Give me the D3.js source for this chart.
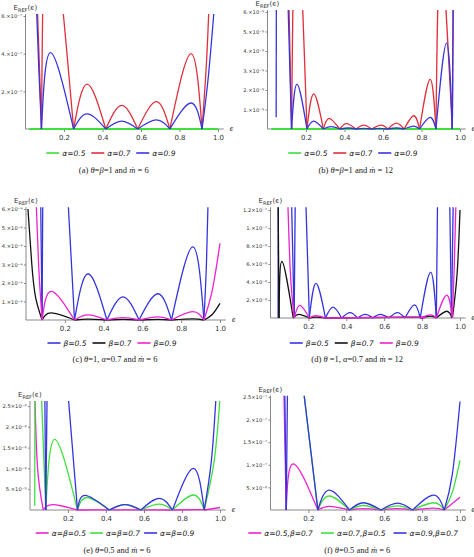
<!DOCTYPE html>
<html><head><meta charset="utf-8">
<script src="https://cdn.jsdelivr.net/npm/d3@7"></script>
<style>body{margin:0;background:#fff}text{font-family:"DejaVu Sans",sans-serif}</style>
</head><body><svg id="c" width="474" height="557"></svg>
<script>
// curve knots [epsilon, value in panel units]; a value of 0 marks a cusp
const aGreen = [[0.02,0],[1.0,0]];
const aRed = [[0.06,7],[0.083,0],[0.12,12],[0.25,0],[0.32,2.38],[0.417,0],[0.5,1.25],[0.583,0],[0.68,1.45],[0.75,0],[0.86,4.0],[0.917,0],[0.94,3.5],[0.955,7]];
const aBlue = [[0.055,7],[0.07,3],[0.083,0],[0.13,4.05],[0.25,0],[0.32,0.8],[0.417,0],[0.5,0.42],[0.583,0],[0.68,0.48],[0.75,0],[0.86,1.38],[0.917,0],[0.95,2.8],[0.985,7]];

const bGreen = [[0.02,0],[1.0,0]];
const bRed = [[0.11,7],[0.125,0],[0.15,12],[0.205,0],[0.24,1.8],[0.29,0],[0.32,0.55],[0.375,0],[0.41,0.28],[0.46,0],[0.5,0.2],[0.54,0],[0.59,0.2],[0.625,0],[0.67,0.3],[0.71,0],[0.76,0.68],[0.79,0],[0.845,2.55],[0.875,0],[0.9,9],[0.96,0],[0.965,7]];
const bBlue = [[0.045,0.6],[0.046,7]];
const bBlue2 = [[0.105,7],[0.125,0],[0.153,2.3],[0.205,0],[0.24,0.4],[0.29,0],[0.33,0.12],[0.375,0],[0.42,0.05],[0.46,0],[0.5,0.03],[0.54,0],[0.58,0.03],[0.625,0],[0.67,0.05],[0.71,0],[0.76,0.15],[0.79,0],[0.845,0.6],[0.875,0],[0.93,4.4],[0.96,0],[0.965,7]];

const cBlue = [[0.075,7],[0.083,0],[0.12,20],[0.25,0],[0.32,2.5],[0.417,0],[0.5,1.25],[0.583,0],[0.68,1.42],[0.75,0],[0.86,3.95],[0.917,0],[0.93,3],[0.94,7]];
const cBlack = [[0.01,6],[0.03,3],[0.05,1.2],[0.083,0],[0.13,0.38],[0.25,0],[0.32,0.05],[0.417,0],[0.5,0.03],[0.583,0],[0.68,0.03],[0.75,0],[0.86,0.06],[0.917,0],[0.96,0.3],[1.0,0.9]];
const cMagenta = [[0.05,7],[0.065,3],[0.083,0],[0.13,1.55],[0.25,0],[0.32,0.28],[0.417,0],[0.5,0.13],[0.583,0],[0.68,0.17],[0.75,0],[0.86,0.45],[0.917,0],[0.96,1.6],[1.0,4.15]];

const dBlue = [[0.04,0],[0.041,14]];
const dBlue2 = [[0.11,14],[0.125,0],[0.15,30],[0.205,0],[0.24,3.85],[0.29,0],[0.33,1.2],[0.375,0],[0.42,0.6],[0.46,0],[0.5,0.4],[0.54,0],[0.58,0.4],[0.625,0],[0.67,0.6],[0.71,0],[0.76,1.45],[0.79,0],[0.845,5.1],[0.875,0],[0.882,14]];
const dBlue3 = [[0.945,14],[0.955,0],[0.965,14]];
const dBlack = [[0.04,14],[0.045,0],[0.06,6.3],[0.12,0],[0.15,0.4],[0.205,0],[0.24,0.1],[0.29,0],[0.76,0.1],[0.79,0],[0.845,0.2],[0.875,0],[0.93,0.75],[0.96,0],[0.985,5],[1.0,12]];
const dMagenta = [[0.09,14],[0.105,5],[0.125,0],[0.155,1.4],[0.205,0],[0.24,0.25],[0.29,0],[0.76,0.1],[0.79,0],[0.845,0.35],[0.875,0],[0.93,2.55],[0.96,0],[0.97,6],[0.98,14]];

const eMagenta = [[0.025,28],[0.04,10],[0.07,0],[0.12,1.3],[0.25,0],[0.5,0.05],[0.75,0],[0.9,0.1],[0.917,0],[1.0,0.6]];
const eGreen = [[0.025,1],[0.026,28]];
const eGreen2 = [[0.06,28],[0.083,0],[0.13,17],[0.25,0],[0.3,3],[0.417,0],[0.5,1.3],[0.583,0],[0.68,1.4],[0.75,0],[0.86,3.6],[0.917,0],[0.97,12],[1.0,27]];
const eBlue = [[0.078,28],[0.083,0],[0.09,28]];
const eBlue2 = [[0.2,28],[0.25,0],[0.29,3.5],[0.417,0],[0.5,1.3],[0.583,0],[0.68,2.8],[0.75,0],[0.86,10],[0.917,0],[0.955,12],[0.98,28]];

const fMagenta = [[0.07,28],[0.083,0],[0.12,10.2],[0.25,0],[0.31,0.8],[0.417,0],[0.49,0.3],[0.583,0],[0.67,0.3],[0.75,0],[0.86,0.4],[0.917,0],[1.0,2.8]];
const fGreen = [[0.17,28],[0.25,0],[0.31,3.1],[0.417,0],[0.49,1.0],[0.583,0],[0.67,0.9],[0.75,0],[0.86,1.6],[0.917,0],[0.96,4],[1.0,11]];
const fBlue = [[0.075,28],[0.083,0],[0.09,28]];
const fBlue2 = [[0.17,28],[0.25,0],[0.31,4.4],[0.417,0],[0.49,1.6],[0.583,0],[0.67,1.5],[0.75,0],[0.86,3.3],[0.917,0],[0.96,8],[1.0,24]];

const xTicks = [0.2,0.4,0.6,0.8,1.0];
const aTicks = [2,4,6], aTickLabels = ["2.×10⁻⁷","4.×10⁻⁷","6.×10⁻⁷"];
const bTicks = [1,2,3,4,5,6], bTickLabels = ["1.×10⁻⁹","2.×10⁻⁹","3.×10⁻⁹","4.×10⁻⁹","5.×10⁻⁹","6.×10⁻⁹"];
const cTicks = [1,2,3,4,5,6], cTickLabels = ["1.×10⁻⁶","2.×10⁻⁶","3.×10⁻⁶","4.×10⁻⁶","5.×10⁻⁶","6.×10⁻⁶"];
const dTicks = [2,4,6,8,10,12], dTickLabels = ["2.×10⁻⁸","4.×10⁻⁸","6.×10⁻⁸","8.×10⁻⁸","1.×10⁻⁷","1.2×10⁻⁷"];
const eTicks = [5,10,15,20,25], eTickLabels = ["5.×10⁻⁹","1.×10⁻⁸","1.5×10⁻⁸","2.×10⁻⁸","2.5×10⁻⁸"];
const fTicks = [5,10,15,20,25], fTickLabels = ["5.×10⁻⁸","1.×10⁻⁷","1.5×10⁻⁷","2.×10⁻⁷","2.5×10⁻⁷"];

const BLUE = "#3535e0", RED = "#e0303c", GREEN = "#3ee03e", MAG = "#ee20d0", BLACK = "#111";

const panels = [
  {id:"a", xr:[25.5,218], yr:[129,16], ymax:6.1, ticks:aTicks, labels:aTickLabels, legY:153, capY:173,
   caption:["(a) ","θ","=","β","=1 and ","ṁ"," = 6"],
   series:[{d:aGreen,c:GREEN,w:2.2},{d:aRed,c:RED},{d:aBlue,c:BLUE}],
   legend:[["α=0.5",GREEN],["α=0.7",RED],["α=0.9",BLUE]]},
  {id:"b", xr:[267.5,460], yr:[129,12], ymax:6.1, ticks:bTicks, labels:bTickLabels, legY:153, capY:173,
   caption:["(b) ","θ","=","β","=1 and ","ṁ"," = 12"],
   series:[{d:bGreen,c:GREEN,w:2.2},{d:bRed,c:RED},{d:bBlue,c:BLUE},{d:bBlue2,c:BLUE}],
   legend:[["α=0.5",GREEN],["α=0.7",RED],["α=0.9",BLUE]]},
  {id:"c", xr:[26,220], yr:[320,209], ymax:6.1, ticks:cTicks, labels:cTickLabels, legY:343, capY:362,
   caption:["(c) ","θ","=1, ","α","=0.7 and ","ṁ"," = 6"],
   series:[{d:cBlue,c:BLUE},{d:cBlack,c:BLACK},{d:cMagenta,c:MAG}],
   legend:[["β=0.5",BLUE],["β=0.7",BLACK],["β=0.9",MAG]]},
  {id:"d", xr:[270.5,460], yr:[318,210], ymax:12.3, ticks:dTicks, labels:dTickLabels, legY:343, capY:362,
   caption:["(d) ","θ"," =1, ","α","=0.7 and ","ṁ"," = 12"],
   series:[{d:dBlue,c:BLUE},{d:dBlue2,c:BLUE},{d:dBlue3,c:BLUE},{d:dBlack,c:BLACK},{d:dMagenta,c:MAG}],
   legend:[["β=0.5",BLUE],["β=0.7",BLACK],["β=0.9",MAG]]},
  {id:"e", xr:[30,220], yr:[510,406], ymax:26.2, ticks:eTicks, labels:eTickLabels, legY:533, capY:553,
   caption:["(e) ","θ","=0.5 and ","ṁ"," = 6"],
   series:[{d:eMagenta,c:MAG},{d:eGreen,c:GREEN},{d:eGreen2,c:GREEN},{d:eBlue,c:BLUE},{d:eBlue2,c:BLUE}],
   legend:[["α=β=0.5",MAG],["α=β=0.7",GREEN],["α=β=0.9",BLUE]]},
  {id:"f", xr:[270.5,460], yr:[510,397], ymax:25.3, ticks:fTicks, labels:fTickLabels, legY:533, capY:553,
   caption:["(f) ","θ","=0.5 and ","ṁ"," = 6"],
   series:[{d:fMagenta,c:MAG},{d:fGreen,c:GREEN},{d:fBlue,c:BLUE},{d:fBlue2,c:BLUE}],
   legend:[["α=0.5,β=0.7",MAG],["α=0.7,β=0.5",GREEN],["α=0.9,β=0.7",BLUE]]}
];

const svg = d3.select("#c");
const greek = /[θβαṁ]/;

panels.forEach(p => {
  const x = d3.scaleLinear().domain([0,1]).range(p.xr);
  const top = p.yr[1] - (p.ymax/p.ticks[p.ticks.length-1] - 1) * (p.yr[0]-p.yr[1]);
  const y = d3.scaleLinear().domain([0,p.ticks[p.ticks.length-1]]).range(p.yr);
  const g = svg.append("g");

  g.append("clipPath").attr("id","clip"+p.id).append("rect")
    .attr("x",x(0)).attr("y",top).attr("width",x(1.02)-x(0)).attr("height",y(0)-top+2);

  // x axis
  const xa = g.append("g").attr("transform",`translate(0,${y(0)})`)
    .call(d3.axisBottom(x).tickValues(xTicks).tickSize(3).tickFormat(d3.format(".1f")));
  xa.select(".domain").attr("d",`M${x(0)},0H${x(1.03)}`).attr("stroke","#888");
  xa.selectAll("line").attr("stroke","#888");
  xa.selectAll("text").attr("font-size",7).attr("fill","#333");
  g.append("text").attr("x",x(1.06)).attr("y",y(0)+2).attr("font-size",7).attr("font-style","italic").attr("fill","#333").text("ϵ");

  // y axis
  const ya = g.append("g").attr("transform",`translate(${x(0)},0)`)
    .call(d3.axisLeft(y).tickValues(p.ticks).tickSize(2).tickPadding(1.5).tickFormat((d,i)=>p.labels[i]));
  ya.select(".domain").attr("d",`M0,${y(0)}V${top}`).attr("stroke","#888");
  ya.selectAll("line").attr("stroke","#888");
  ya.selectAll("text").attr("font-size",5.2).attr("fill","#333");
  const yl = g.append("text").attr("x",x(0)-12).attr("y",top-4).attr("font-size",7).attr("fill","#333");
  yl.append("tspan").text("E");
  yl.append("tspan").attr("font-size",5).attr("dy",1.5).text("REF");
  yl.append("tspan").attr("dy",-1.5).text("(ϵ)");

  // curves: split each series into arches at its zeros
  const line = d3.line().x(d=>x(d[0])).y(d=>y(d[1])).curve(d3.curveNatural);
  const cg = g.append("g").attr("clip-path",`url(#clip${p.id})`);
  p.series.forEach(s => {
    const segs = []; let cur = [];
    s.d.forEach((pt,i) => {
      cur.push(pt);
      if (pt[1] === 0 && i > 0 && i < s.d.length-1) { segs.push(cur); cur = [pt]; }
    });
    if (cur.length > 1) segs.push(cur);
    segs.forEach(seg => cg.append("path").attr("d",line(seg)).attr("fill","none")
      .attr("stroke",s.c).attr("stroke-width",s.w||1.3));
  });

  // legend
  const cx = (p.xr[0]+p.xr[1])/2 - 8;
  const widths = p.legend.map(l => l[0].length*4.6 + 22);
  const total = d3.sum(widths);
  let lx = cx - total/2;
  p.legend.forEach((l,i) => {
    g.append("line").attr("x1",lx).attr("x2",lx+13).attr("y1",p.legY).attr("y2",p.legY)
      .attr("stroke",l[1]).attr("stroke-width",1.6);
    g.append("text").attr("x",lx+16).attr("y",p.legY+2.5).attr("font-size",7.5).attr("fill","#222")
      .attr("font-style","italic").text(l[0]);
    lx += widths[i];
  });

  // caption
  const cap = g.append("text").attr("x",cx).attr("y",p.capY).attr("text-anchor","middle")
    .attr("font-size",8.5).attr("fill","#222").style("font-family","'Liberation Serif',serif");
  p.caption.forEach(t => cap.append("tspan").attr("font-style",greek.test(t)?"italic":null).text(t));
});
</script></body></html>
